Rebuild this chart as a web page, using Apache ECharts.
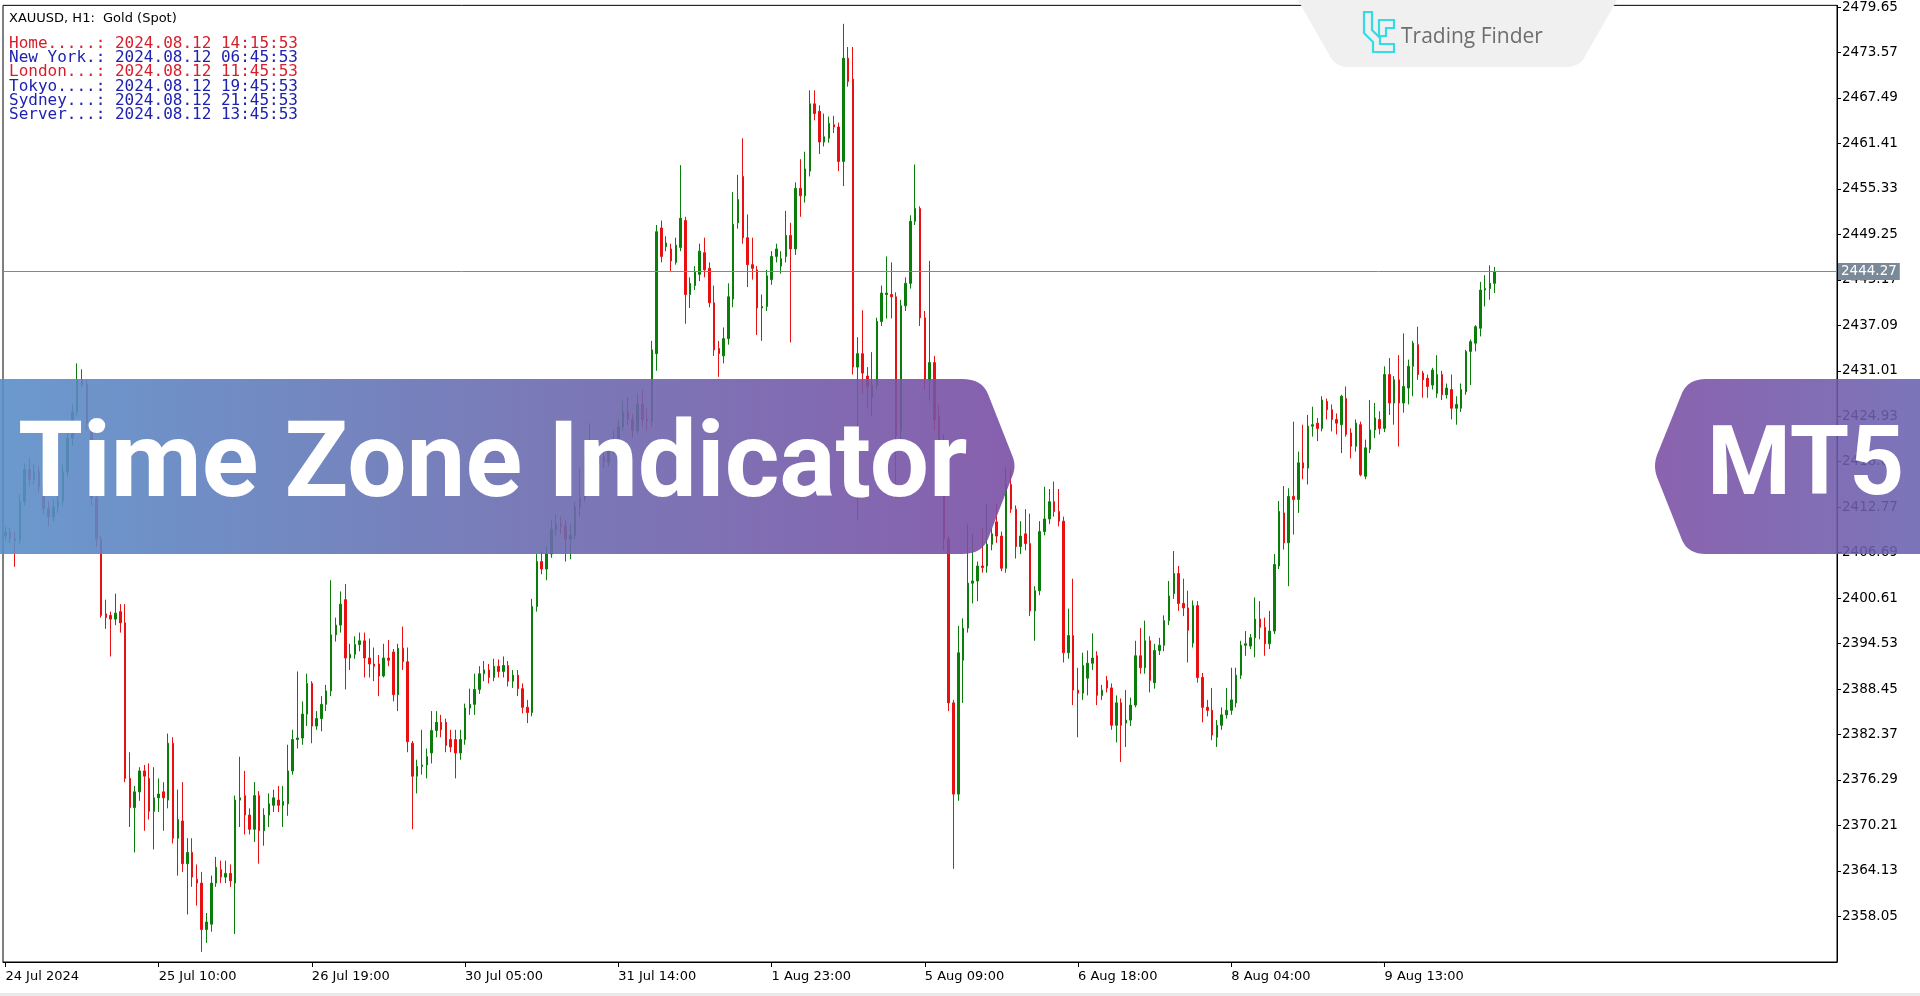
<!DOCTYPE html>
<html><head><meta charset="utf-8">
<script src="https://cdn.jsdelivr.net/npm/echarts@6/dist/echarts.min.js"></script>
<style>html,body{margin:0;padding:0;background:#fff;overflow:hidden}#c{width:1920px;height:996px}</style>
</head><body><div id="c"></div>
<script>
const tradingDays = ['24 Jul','25 Jul','26 Jul','29 Jul','30 Jul','31 Jul','1 Aug','2 Aug','5 Aug','6 Aug','7 Aug','8 Aug','9 Aug','12 Aug'];
const xTickLabels = ['24 Jul 2024','25 Jul 10:00','26 Jul 19:00','30 Jul 05:00','31 Jul 14:00','1 Aug 23:00','5 Aug 09:00','6 Aug 18:00','8 Aug 04:00','9 Aug 13:00'];
const yTicks = [2358.05,2364.13,2370.21,2376.29,2382.37,2388.45,2394.53,2400.61,2406.69,2412.77,2418.85,2424.93,2431.01,2437.09,2443.17,2449.25,2455.33,2461.41,2467.49,2473.57,2479.65];
const lastPrice = 2444.27;
const infoLines = [
  ['Home.....: 2024.08.12 14:15:53', '#d81e2a'],
  ['New York.: 2024.08.12 06:45:53', '#1e22b0'],
  ['London...: 2024.08.12 11:45:53', '#d81e2a'],
  ['Tokyo....: 2024.08.12 19:45:53', '#1e22b0'],
  ['Sydney...: 2024.08.12 21:45:53', '#1e22b0'],
  ['Server...: 2024.08.12 13:45:53', '#1e22b0']
];
const opens = [
2409.0,2409.4,2408.6,2408.3,2413.5,2417.8,2416.5,2417.5,2415.5,2412.6,
2411.5,2412.8,2413.6,2417.5,2422.0,2425.5,2429.8,2429.2,2424.0,2414.0,
2408.5,2398.5,2398.3,2397.8,2398.8,2397.3,2376.5,2372.6,2374.7,2377.5,
2376.5,2372.1,2373.9,2374.7,2373.6,2381.2,2368.5,2370.8,2365.1,2366.6,
2363.0,2362.5,2356.3,2357.0,2362.5,2364.3,2363.3,2363.8,2362.5,2373.6,
2374.2,2371.6,2369.7,2374.2,2369.5,2371.6,2372.9,2373.6,2372.9,2373.1,
2377.5,2381.7,2381.9,2385.1,2389.2,2383.5,2384.5,2386.4,2388.2,2395.7,
2397.0,2400.4,2392.6,2393.1,2394.4,2394.9,2392.6,2391.8,2391.8,2390.2,
2392.6,2393.4,2387.7,2393.9,2392.1,2381.2,2376.8,2378.1,2378.3,2379.9,
2382.9,2384.0,2384.0,2381.7,2381.7,2379.9,2381.7,2385.9,2386.4,2388.4,
2390.5,2391.0,2390.0,2391.5,2390.8,2391.6,2389.5,2390.3,2388.5,2386.0,
2385.3,2399.5,2405.5,2404.5,2406.5,2409.8,2410.5,2410.2,2408.5,2409.0,
2412.8,2414.0,2418.5,2420.0,2418.5,2419.5,2418.8,2420.5,2421.5,2423.5,
2425.5,2424.5,2423.0,2426.5,2424.5,2424.3,2433.3,2450.1,2447.6,2447.3,
2445.5,2447.5,2451.1,2441.2,2442.4,2443.9,2446.8,2444.7,2440.1,2434.0,
2433.0,2435.3,2440.6,2450.8,2457.0,2448.8,2445.2,2444.5,2439.4,2439.6,
2443.2,2446.3,2445.0,2446.3,2449.1,2447.3,2455.4,2454.4,2457.7,2466.7,
2465.7,2461.6,2462.1,2463.9,2463.6,2459.0,2472.8,2470.0,2431.5,2433.3,
2430.3,2427.4,2429.1,2437.6,2441.2,2441.2,2440.9,2423.0,2439.7,2442.7,
2451.0,2452.7,2438.1,2429.8,2432.1,2425.0,2421.0,2408.5,2386.6,2374.4,
2392.3,2396.6,2402.6,2402.9,2404.9,2404.9,2407.8,2410.8,2408.9,2404.6,
2415.8,2412.5,2407.5,2409.2,2407.9,2398.9,2401.6,2409.5,2411.2,2413.5,
2412.2,2410.9,2393.3,2395.6,2388.3,2387.9,2389.9,2391.9,2392.9,2387.6,
2389.6,2388.6,2383.6,2386.6,2383.9,2384.3,2386.3,2392.9,2391.3,2394.9,
2389.3,2393.6,2394.3,2397.6,2401.2,2403.9,2399.9,2399.3,2394.6,2399.6,
2390.0,2386.0,2385.6,2382.0,2383.6,2385.0,2385.6,2386.6,2390.3,2394.3,
2394.2,2395.3,2397.8,2396.7,2394.5,2396.2,2404.9,2412.0,2408.0,2414.2,
2413.8,2418.7,2418.0,2423.6,2424.0,2423.3,2426.9,2425.8,2424.5,2423.8,
2427.3,2422.7,2420.9,2423.8,2416.9,2420.5,2423.1,2424.5,2423.3,2430.5,
2426.7,2429.8,2426.7,2428.7,2431.6,2434.5,2430.7,2430.0,2429.1,2428.0,
2430.5,2427.8,2428.5,2426.0,2426.0,2428.2,2433.6,2434.7,2436.7,2441.8,
2442.0,2442.7];
const closes = [
2409.4,2408.6,2408.3,2413.5,2417.8,2416.5,2417.5,2415.5,2412.6,2411.5,
2412.8,2413.6,2417.5,2422.0,2425.5,2429.8,2429.2,2424.0,2414.0,2408.5,
2398.3,2398.0,2397.8,2398.6,2397.3,2376.5,2372.6,2374.7,2377.5,2376.8,
2372.1,2373.9,2374.4,2373.9,2381.2,2368.5,2371.0,2365.1,2366.6,2363.3,
2362.5,2356.3,2357.3,2362.5,2364.6,2363.3,2363.8,2362.8,2373.6,2373.9,
2371.6,2369.7,2374.2,2369.5,2371.6,2373.1,2373.9,2372.9,2373.4,2377.5,
2381.7,2381.9,2385.1,2389.2,2383.5,2384.5,2386.4,2388.2,2395.7,2397.0,
2399.8,2392.6,2393.1,2394.4,2394.9,2392.6,2391.8,2391.5,2390.2,2392.6,
2392.3,2387.7,2393.9,2392.1,2381.4,2376.8,2378.1,2378.3,2379.4,2382.9,
2384.0,2383.0,2380.9,2380.7,2379.9,2381.7,2385.9,2386.4,2388.4,2390.5,
2391.0,2390.0,2391.5,2390.8,2391.6,2389.5,2390.3,2388.5,2386.0,2385.3,
2399.5,2405.5,2404.5,2406.5,2409.8,2410.5,2410.2,2408.5,2409.0,2412.8,
2414.0,2418.5,2420.0,2418.5,2419.5,2418.8,2420.5,2421.5,2423.5,2425.5,
2424.5,2423.0,2426.5,2424.5,2424.3,2433.8,2449.6,2446.3,2448.1,2445.7,
2447.8,2451.4,2441.2,2442.7,2444.2,2447.0,2444.5,2440.1,2433.8,2433.3,
2435.3,2440.9,2450.6,2453.9,2448.8,2445.2,2444.7,2439.4,2439.6,2443.7,
2446.3,2447.3,2446.0,2449.1,2447.3,2455.4,2454.4,2458.0,2466.7,2465.4,
2461.6,2462.3,2464.1,2463.6,2459.0,2472.8,2469.7,2431.5,2433.3,2430.7,
2428.9,2429.1,2437.6,2441.4,2441.4,2440.9,2422.3,2439.7,2442.7,2451.0,
2452.7,2438.1,2429.8,2432.1,2424.5,2420.5,2408.5,2386.6,2374.4,2393.3,
2396.6,2402.6,2402.9,2404.9,2404.7,2407.8,2409.2,2408.9,2404.6,2415.8,
2412.5,2407.5,2408.9,2407.9,2398.9,2401.6,2409.5,2411.2,2413.5,2412.2,
2410.9,2393.3,2395.6,2388.3,2387.9,2391.6,2391.9,2392.6,2387.6,2388.3,
2388.6,2383.6,2386.6,2383.6,2384.3,2386.3,2392.9,2391.3,2394.9,2389.6,
2393.6,2394.3,2397.6,2400.9,2403.9,2399.9,2399.3,2396.3,2399.6,2390.0,
2386.0,2385.6,2382.3,2383.6,2385.0,2385.6,2387.0,2390.3,2394.3,2394.5,
2395.3,2397.8,2396.7,2394.5,2396.2,2405.1,2412.2,2408.0,2414.2,2413.8,
2418.7,2418.0,2423.6,2423.8,2423.3,2427.1,2425.8,2424.5,2424.0,2427.6,
2422.5,2420.9,2424.0,2417.1,2420.7,2423.1,2424.7,2423.3,2430.5,2426.7,
2429.8,2426.7,2428.9,2431.6,2434.7,2430.5,2429.8,2428.9,2431.1,2430.5,
2427.8,2428.7,2426.0,2426.5,2428.5,2433.6,2434.9,2436.9,2441.8,2442.0,
2442.7,2444.27];
const lows = [
2408.3,2408.0,2404.8,2407.8,2413.0,2415.5,2415.8,2414.8,2411.8,2410.2,
2410.8,2412.0,2413.0,2416.8,2421.0,2425.0,2428.8,2423.0,2413.0,2407.5,
2398.0,2396.5,2392.8,2397.0,2396.0,2376.0,2370.0,2366.6,2373.5,2369.5,
2371.0,2367.0,2372.0,2369.5,2372.5,2367.8,2363.5,2364.0,2358.3,2362.0,
2359.5,2353.3,2354.5,2356.0,2362.0,2362.5,2362.5,2362.0,2355.7,2370.0,
2369.0,2369.0,2368.0,2365.1,2367.5,2370.0,2372.0,2372.0,2370.0,2371.5,
2377.0,2380.5,2381.0,2383.5,2381.2,2383.0,2382.8,2385.5,2387.5,2394.8,
2396.0,2388.4,2391.0,2392.5,2393.5,2390.0,2390.0,2389.5,2387.5,2390.0,
2391.5,2386.8,2385.5,2391.0,2380.0,2369.7,2374.5,2377.0,2376.5,2378.5,
2382.0,2382.0,2380.0,2380.0,2376.5,2379.0,2381.0,2385.0,2385.0,2387.8,
2389.5,2389.2,2389.5,2390.0,2390.0,2388.8,2388.6,2387.5,2385.2,2383.9,
2384.8,2398.8,2403.8,2403.0,2406.0,2409.0,2409.2,2405.5,2405.8,2408.5,
2411.5,2413.5,2417.8,2417.5,2417.8,2418.0,2418.2,2419.8,2421.0,2423.0,
2423.8,2422.0,2422.5,2423.5,2423.0,2423.5,2431.0,2445.5,2447.0,2444.2,
2445.2,2447.0,2437.3,2439.4,2441.8,2443.0,2443.5,2439.5,2433.0,2430.2,
2432.0,2434.5,2439.5,2450.0,2448.0,2442.2,2443.2,2435.8,2435.0,2439.0,
2442.5,2445.5,2444.0,2445.5,2434.8,2446.5,2451.6,2453.5,2457.0,2464.5,
2460.0,2461.0,2461.5,2462.8,2457.7,2455.7,2469.0,2430.5,2411.0,2428.0,
2426.0,2425.0,2428.5,2437.0,2438.0,2438.0,2414.0,2421.5,2439.0,2442.0,
2450.5,2437.0,2428.5,2427.0,2423.0,2418.0,2407.0,2385.5,2364.4,2373.5,
2386.6,2396.0,2399.9,2400.2,2404.0,2404.0,2407.0,2408.0,2404.2,2404.0,
2412.0,2405.9,2406.5,2407.0,2398.2,2394.9,2401.0,2409.0,2410.5,2411.5,
2410.2,2392.0,2392.5,2386.3,2382.0,2387.0,2387.6,2391.0,2386.3,2387.0,
2388.0,2383.0,2381.3,2378.7,2380.7,2383.5,2386.0,2390.5,2390.5,2388.0,
2388.5,2393.0,2393.5,2397.0,2400.5,2398.9,2398.2,2392.0,2394.0,2389.3,
2384.0,2384.8,2381.6,2380.7,2383.0,2384.5,2385.0,2386.0,2389.8,2392.9,
2393.8,2392.7,2395.1,2392.9,2393.8,2395.8,2404.5,2407.1,2402.2,2409.1,
2412.0,2416.5,2415.8,2422.2,2421.6,2422.9,2424.5,2422.9,2422.5,2420.0,
2422.2,2419.3,2420.2,2416.9,2416.5,2420.0,2422.0,2422.5,2422.8,2425.1,
2423.8,2420.9,2425.4,2426.5,2427.6,2429.8,2427.4,2427.4,2428.5,2427.4,
2427.1,2427.3,2424.5,2423.8,2425.5,2427.8,2429.1,2433.6,2435.6,2439.6,
2440.5,2441.4];
const highs = [
2410.2,2410.0,2409.5,2414.5,2418.6,2419.3,2418.5,2418.2,2416.0,2413.5,
2413.8,2414.8,2418.5,2423.0,2426.5,2432.0,2431.2,2429.8,2424.5,2414.5,
2409.0,2400.4,2398.8,2401.2,2399.8,2399.8,2380.0,2375.5,2378.0,2378.3,
2378.5,2378.0,2376.5,2376.0,2382.5,2382.0,2375.0,2376.0,2368.5,2368.5,
2365.0,2364.0,2358.5,2363.5,2366.0,2365.5,2365.5,2365.0,2374.2,2379.4,
2377.5,2372.5,2376.0,2374.8,2372.5,2374.5,2375.0,2375.5,2375.5,2381.0,
2383.0,2390.8,2386.8,2390.5,2389.5,2385.5,2387.5,2389.0,2403.0,2398.0,
2401.5,2402.5,2394.5,2395.5,2396.0,2396.0,2395.2,2394.0,2393.0,2394.5,
2395.0,2393.8,2394.5,2396.8,2394.0,2381.5,2379.0,2383.0,2380.5,2385.5,
2385.5,2385.0,2384.5,2383.0,2383.0,2383.0,2386.5,2388.5,2390.5,2391.5,
2392.2,2391.8,2392.5,2392.4,2392.8,2392.2,2391.0,2391.0,2389.2,2387.0,
2400.5,2406.5,2406.8,2407.5,2411.0,2411.8,2411.5,2411.0,2410.5,2413.5,
2418.0,2419.5,2424.0,2421.0,2420.8,2420.5,2421.5,2423.0,2424.5,2427.0,
2427.5,2425.2,2428.0,2428.5,2426.0,2435.0,2450.5,2451.1,2449.0,2448.0,
2448.8,2458.5,2451.6,2443.5,2445.0,2448.0,2448.8,2445.5,2442.4,2435.0,
2436.8,2442.7,2454.9,2457.2,2462.1,2451.9,2448.8,2445.0,2441.2,2444.5,
2447.0,2448.0,2447.0,2452.4,2450.8,2456.2,2459.3,2460.3,2468.5,2468.5,
2466.5,2465.4,2465.0,2465.1,2464.2,2477.4,2474.3,2474.3,2435.5,2439.1,
2431.5,2433.5,2438.1,2442.4,2446.3,2445.5,2441.5,2440.5,2443.5,2451.8,
2458.6,2453.0,2439.0,2445.7,2433.0,2426.5,2422.5,2409.0,2387.0,2396.9,
2397.9,2410.5,2409.2,2405.5,2409.9,2413.2,2410.0,2413.2,2409.5,2418.1,
2417.8,2413.0,2410.9,2412.5,2411.9,2402.2,2410.9,2415.5,2415.2,2416.2,
2415.2,2411.5,2399.2,2403.2,2391.3,2393.3,2393.6,2395.9,2393.5,2389.0,
2390.2,2389.2,2387.6,2387.2,2388.3,2387.3,2394.9,2396.6,2397.6,2395.5,
2394.5,2395.3,2398.3,2402.9,2406.9,2404.9,2403.2,2401.6,2400.3,2400.2,
2390.6,2387.0,2388.6,2384.3,2386.0,2388.6,2391.3,2391.3,2394.9,2396.2,
2395.8,2400.7,2400.2,2398.0,2398.9,2406.5,2413.6,2415.6,2415.3,2424.2,
2420.2,2423.8,2425.1,2426.2,2424.7,2427.6,2427.3,2426.5,2425.3,2427.8,
2428.9,2423.3,2424.5,2424.2,2421.8,2427.1,2426.7,2425.6,2431.6,2432.7,
2430.3,2433.1,2436.0,2432.5,2435.0,2436.9,2431.0,2430.5,2431.4,2433.1,
2431.0,2429.3,2430.5,2427.6,2429.3,2433.8,2435.2,2437.1,2442.9,2443.8,
2445.1,2444.9];

// hourly H1 bars (01:00-23:00), last day up to 13:00, plus empty slots to the right edge
const categories = [];
tradingDays.forEach((d, di) => {
  const lastHour = di === tradingDays.length - 1 ? 13 : 23;
  for (let h = 1; h <= lastHour; h++) categories.push(d + ' ' + String(h).padStart(2, '0') + ':00');
});
const totalSlots = 383;
for (let k = categories.length; k < totalSlots; k++) categories.push('~' + k);
const candleData = opens.map((o, i) => [o, closes[i], lows[i], highs[i]]);
const tickStep = 32;
const showTick = (idx) => idx % tickStep === 0 && idx / tickStep < xTickLabels.length;

// decoration outline helper: segments of lines and quadratic corners -> polygon points
function outline(cmds) {
  const pts = [];
  let cur = null;
  cmds.forEach(c => {
    if (c[0] === 'L') { cur = [c[1], c[2]]; pts.push(cur); }
    else if (c[0] === 'Q') {
      const [cx, cy, x1, y1] = [c[1], c[2], c[3], c[4]];
      for (let t = 1; t <= 8; t++) {
        const s = t / 8, a = (1 - s) * (1 - s), b = 2 * (1 - s) * s, d = s * s;
        pts.push([a * cur[0] + b * cx + d * x1, a * cur[1] + b * cy + d * y1]);
      }
      cur = [x1, y1];
    }
  });
  return pts;
}
function grad(stops) { return {type: 'linear', x: 0, y: 0, x2: 1, y2: 0, global: false, colorStops: stops}; }

const chart = echarts.init(document.getElementById('c'), null, {renderer: 'canvas'});
const labelFont = 'DejaVu Sans';
const graphics = [];
// bottom strip
graphics.push({type:'rect', z:100, shape:{x:0, y:993, width:1920, height:3}, style:{fill:'#e9e9e9'}});
// Trading Finder tab
graphics.push({type:'polygon', z:100, shape:{points: outline([['L',1298,0],['L',1617,0],['L',1584,58],['Q',1578,67,1566,67],['L',1349,67],['Q',1337,67,1331,58]])}, style:{fill:'#f0f0f0'}});
graphics.push({type:'polygon', z:101, shape:{points:[[1364,12],[1372,12],[1372,30],[1380,38],[1380,44],[1394,44],[1394,52],[1373,52],[1373,42],[1364,33]]}, style:{fill:'none', stroke:'#33dde6', lineWidth:2.2}});
graphics.push({type:'polygon', z:101, shape:{points:[[1379,20],[1394,20],[1394,28],[1386,28],[1386,36],[1379,36]]}, style:{fill:'none', stroke:'#33dde6', lineWidth:2.2}});
graphics.push({type:'text', z:101, x:1401, y:37, style:{text:'Trading Finder', fill:'#6e6e6e', font:'21px "Open Sans"', textAlign:'left', textVerticalAlign:'middle'}});
// info text
graphics.push({type:'text', z:101, x:9, y:19, style:{text:'XAUUSD, H1:  Gold (Spot)', fill:'#000', font:'13px "DejaVu Sans"', textAlign:'left', textVerticalAlign:'middle'}});
infoLines.forEach((l, k) => {
  graphics.push({type:'text', z:101, x:9, y:43.5 + k * 14.3, style:{text:l[0], fill:l[1], font:'16px "DejaVu Sans Mono"', textAlign:'left', textVerticalAlign:'middle'}});
});
// banners
graphics.push({type:'polygon', z:110, shape:{points: outline([['L',0,379],['L',962,379],['Q',982,379,988,394],['L',1012,455],['Q',1017,466,1012,477],['L',988,539],['Q',982,554,962,554],['L',0,554]])},
  style:{opacity:0.9, fill:grad([{offset:0,color:'#5a8ec9'},{offset:0.5,color:'#6a6db0'},{offset:1,color:'#7a4ea4'}])}});
graphics.push({type:'text', z:111, x:18, y:470, style:{text:'Time Zone Indicator', fill:'#ffffff', font:'bold 105px Roboto', textAlign:'left', textVerticalAlign:'middle'}});
graphics.push({type:'polygon', z:110, shape:{points: outline([['L',1920,379],['L',1706,379],['Q',1688,379,1682,393],['L',1657,455],['Q',1653,466,1657,477],['L',1682,540],['Q',1688,554,1706,554],['L',1920,554]])},
  style:{opacity:0.88, fill:grad([{offset:0,color:'#7b4da3'},{offset:1,color:'#6a62b0'}])}});
graphics.push({type:'text', z:111, x:1707, y:470, style:{text:'MT5', fill:'#ffffff', font:'bold 96px Roboto', textAlign:'left', textVerticalAlign:'middle'}});

chart.setOption({
  animation: false,
  backgroundColor: '#ffffff',
  grid: {left: 3, right: 83, top: 3, bottom: 34, show: true, borderColor: '#000', borderWidth: 1, backgroundColor: '#fff'},
  xAxis: {
    type: 'category', data: categories, boundaryGap: true,
    axisLine: {show: true, lineStyle: {color: '#000', width: 1}},
    axisTick: {show: true, alignWithLabel: true, interval: showTick, length: 5, lineStyle: {color: '#000'}},
    axisLabel: {show: true, interval: showTick, formatter: (v, idx) => xTickLabels[idx / tickStep] || '', align: 'left', margin: 8, color: '#000', fontFamily: labelFont, fontSize: 13},
    splitLine: {show: false}
  },
  yAxis: {
    type: 'value', position: 'right', min: 2351.95, max: 2479.87, scale: true,
    axisLine: {show: true, lineStyle: {color: '#000', width: 1}},
    axisTick: {show: true, length: 4, lineStyle: {color: '#000'}, customValues: yTicks},
    axisLabel: {show: true, customValues: yTicks, formatter: v => v.toFixed(2), color: '#000', fontFamily: labelFont, fontSize: 13.5, margin: 5},
    splitLine: {show: false}
  },
  series: [{
    type: 'candlestick', data: candleData, barWidth: 2,
    itemStyle: {color: '#0a7d0a', color0: '#e81010', borderColor: '#0a7d0a', borderColor0: '#e81010', borderWidth: 1},
    markLine: {
      silent: true, symbol: ['none', 'none'], animation: false,
      lineStyle: {color: '#7b8a99', width: 1, type: 'solid'},
      label: {show: true, position: 'end', formatter: lastPrice.toFixed(2), color: '#fff', backgroundColor: '#7b8a99', padding: [2, 3, 1, 3], fontFamily: labelFont, fontSize: 13.5, distance: 1},
      data: [{yAxis: lastPrice}]
    }
  }],
  graphic: graphics
});
</script>
</body></html>
